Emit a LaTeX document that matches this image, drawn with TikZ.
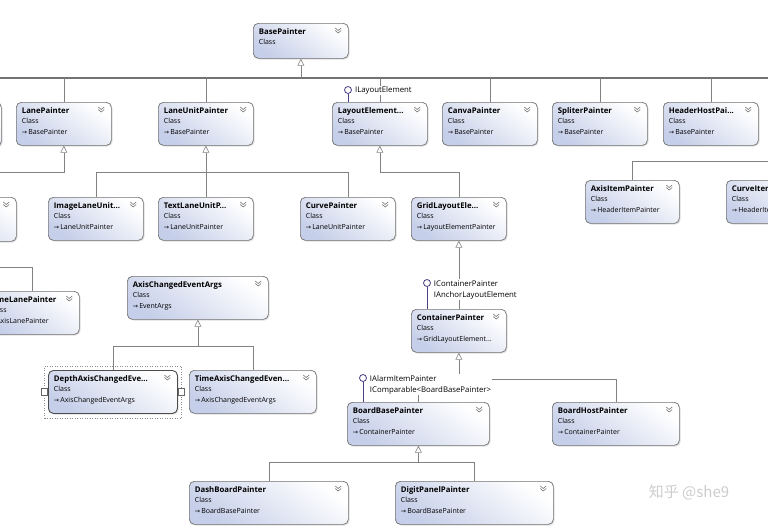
\documentclass[tikz,border=0pt]{standalone}
\usepackage{fontspec}
\setmainfont{Open Sans}
\newfontfamily\arrfont{DejaVu Sans}
\newfontfamily\cjk{Noto Sans CJK SC}
\usepackage{tikz}
\usetikzlibrary{arrows.meta,shadows,calc,fit}

\definecolor{clsblue}{RGB}{198,207,233}
\definecolor{clsline}{RGB}{112,112,112}
\definecolor{conline}{RGB}{130,130,130}
\definecolor{lolly}{RGB}{72,62,128}
\definecolor{chevcol}{RGB}{120,120,120}

% class box contents: width, title, base class
\newcommand{\cls}[3]{\parbox[c][33pt][t]{#1}{\raggedright
  \fontsize{7.8}{10.5}\selectfont\bfseries #2\par
  \fontsize{7}{10.5}\selectfont\mdseries Class\par
  {\arrfont\fontsize{6.3}{10.5}\selectfont →}\,#3}}
\newcommand{\clsroot}[1]{\parbox[c][25pt][t]{84pt}{\raggedright
  \fontsize{7.8}{10.5}\selectfont\bfseries #1\par
  \fontsize{7}{10.5}\selectfont\mdseries Class}}

\tikzset{
  classbox/.style={draw=clsline, line width=0.7pt, rounded corners=5pt,
    anchor=north west, inner xsep=5.5pt, inner ysep=5pt,
    top color=white, bottom color=clsblue, shading angle=-35,
    drop shadow={shadow xshift=1.2pt, shadow yshift=-1.2pt, opacity=0.25}},
  inherit/.style={draw=conline, line width=0.6pt},
  parent/.style={inherit, {Triangle[open, length=7pt, width=7pt, fill=white]}-},
  mainbus/.style={draw=black!55, line width=1.5pt},
  lollipop/.style={draw=lolly, line width=1pt},
  lollyend/.style={circle, draw=lolly, line width=0.8pt, fill=white, minimum size=7pt, inner sep=0pt},
  iface/.style={font=\fontsize{7.8}{11}\selectfont, fill=white, inner sep=1pt, align=left, anchor=north west},
  handle/.style={draw=black!60, fill=white, minimum width=6pt, minimum height=7pt, inner sep=0pt},
  chev/.pic={\draw[chevcol, line width=0.6pt] (-3,2.5) -- (0,0) -- (3,2.5) (-3,0) -- (0,-2.5) -- (3,0);}
}

\begin{document}
\begin{tikzpicture}[x=1pt, y=1pt, yscale=-1]
\useasboundingbox (0,0) rectangle (768,525);
\clip (0,0) rectangle (768,525);

% root and first row
\node[classbox] (base) at (253,23) {\clsroot{BasePainter}};
\node[classbox, minimum width=95pt, minimum height=44pt] (lfa) at (-94,102) {};
\node[classbox] (lane) at (16,102) {\cls{84pt}{LanePainter}{BasePainter}};
\node[classbox] (laneunit) at (158,102) {\cls{84pt}{LaneUnitPainter}{BasePainter}};
\node[classbox] (layout) at (332,102) {\cls{84pt}{LayoutElement...}{BasePainter}};
\node[classbox] (canva) at (442,102) {\cls{84pt}{CanvaPainter}{BasePainter}};
\node[classbox] (spliter) at (552,102) {\cls{84pt}{SpliterPainter}{BasePainter}};
\node[classbox] (headerhost) at (663,102) {\cls{84pt}{HeaderHostPai...}{BasePainter}};

% second row
\node[classbox, minimum width=95pt, minimum height=44pt] (lfb) at (-79,197) {};
\node[classbox] (imglane) at (48,197) {\cls{84pt}{ImageLaneUnit...}{LaneUnitPainter}};
\node[classbox] (txtlane) at (158,197) {\cls{84pt}{TextLaneUnitP...}{LaneUnitPainter}};
\node[classbox] (curve) at (300,197) {\cls{84pt}{CurvePainter}{LaneUnitPainter}};
\node[classbox] (grid) at (411,197) {\cls{84pt}{GridLayoutEle...}{LayoutElementPainter}};
\node[classbox] (axisitem) at (585,180) {\cls{83pt}{AxisItemPainter}{HeaderItemPainter}};
\node[classbox] (curveitem) at (726,180) {\cls{84pt}{CurveItemPainter}{HeaderItemPainter}};

% third row
\node[classbox] (timelane) at (-16,291) {\cls{84pt}{TimeLanePainter}{AxisLanePainter}};
\node[classbox] (axischanged) at (127,276) {\cls{130pt}{AxisChangedEventArgs}{EventArgs}};
\node[classbox] (container) at (411,309) {\cls{84pt}{ContainerPainter}{GridLayoutElement...}};

% fourth and fifth rows
\node[classbox, draw=black!70, line width=0.9pt] (depth) at (48,370) {\cls{118pt}{DepthAxisChangedEve...}{AxisChangedEventArgs}};
\node[classbox] (timeaxis) at (189,370) {\cls{116pt}{TimeAxisChangedEven...}{AxisChangedEventArgs}};
\node[classbox] (boardbase) at (347,402) {\cls{131pt}{BoardBasePainter}{ContainerPainter}};
\node[classbox] (boardhost) at (552,402) {\cls{116pt}{BoardHostPainter}{ContainerPainter}};
\node[classbox] (dash) at (189,481) {\cls{148pt}{DashBoardPainter}{BoardBasePainter}};
\node[classbox] (digit) at (395,481) {\cls{147pt}{DigitPanelPainter}{BoardBasePainter}};

\foreach \n in {base,lfb,lane,laneunit,layout,canva,spliter,headerhost,imglane,txtlane,curve,grid,axisitem,curveitem,timelane,axischanged,container,depth,timeaxis,boardbase,boardhost,dash,digit}
  \pic at ([shift={(-10.5,7.5)}]\n.north east) {chev};

% selection frame
\node[draw=black!45, dotted, line width=0.5pt, fit=(depth), inner xsep=3.5pt, inner ysep=4pt] (depthsel) {};
\node[handle] (hleft) at (depthsel.west) {};
\node[handle] (hright) at (depthsel.east) {};

% inheritance
\coordinate (busw) at (0,78);
\coordinate (buse) at (768,78);
\draw[mainbus] (busw) -- (buse);
\draw[parent] (base.south) -- (base.south |- busw);
\foreach \n in {lane,laneunit,layout,canva,spliter,headerhost}
  \draw[inherit] (\n.north) -- (\n.north |- busw);

\coordinate (nbus) at (0,172);
\draw[parent] (lane.south) |- (nbus);
\coordinate (ubus) at ($(laneunit.south)+(0,27)$);
\draw[parent] (laneunit.south) -- (ubus);
\draw[inherit] (imglane.north) |- (ubus) -| (curve.north);
\draw[inherit] (txtlane.north) -- (ubus);
\coordinate (lbus) at ($(layout.south)+(0,27)$);
\draw[parent] (layout.south) -- (lbus) -| (grid.north);
\coordinate (hbus) at (768,161);
\draw[inherit] (axisitem.north) |- (hbus);
\coordinate (tbus) at (0,267);
\draw[inherit] (timelane.north) |- (tbus);
\coordinate (abus) at ($(axischanged.south)+(0,27)$);
\draw[parent] (axischanged.south) -- (abus);
\draw[inherit] (depth.north) |- (abus) -| (timeaxis.north);
\draw[parent] (grid.south) -- (container.north);
\coordinate (cbus) at ($(container.south)+(0,27)$);
\draw[parent] (container.south) -- (cbus);
\draw[inherit] (boardbase.north) |- (cbus) -| (boardhost.north);
\coordinate (bbus) at ($(boardbase.south)+(0,17)$);
\draw[parent] (boardbase.south) -- (bbus);
\draw[inherit] (dash.north) |- (bbus) -| (digit.north);

% interfaces
\node[lollyend] (ilayout) at ($(layout.north west)+(16,-12)$) {};
\draw[lollipop] (ilayout) -- (ilayout |- layout.north);
\node[iface, anchor=west] (ilayoutlbl) at ($(ilayout.east)+(2,0.5)$) {ILayoutElement};
\node[lollyend] (icont) at ($(container.north west)+(16,-26)$) {};
\draw[lollipop] (icont) -- (icont |- container.north);
\node[iface] (icontlbl) at ($(icont.north east)+(3,-1)$) {IContainerPainter\\IAnchorLayoutElement};
\node[lollyend] (iboard) at ($(boardbase.north west)+(16,-24)$) {};
\draw[lollipop] (iboard) -- (iboard |- boardbase.north);
\node[iface] (iboardlbl) at ($(iboard.north east)+(3,-1)$) {IAlarmItemPainter\\IComparable<BoardBasePainter>};

\node[text=gray!40, font=\cjk\fontsize{15}{15}\selectfont] (mark) at (689,492) {知乎 @she9};
\end{tikzpicture}
\end{document}
